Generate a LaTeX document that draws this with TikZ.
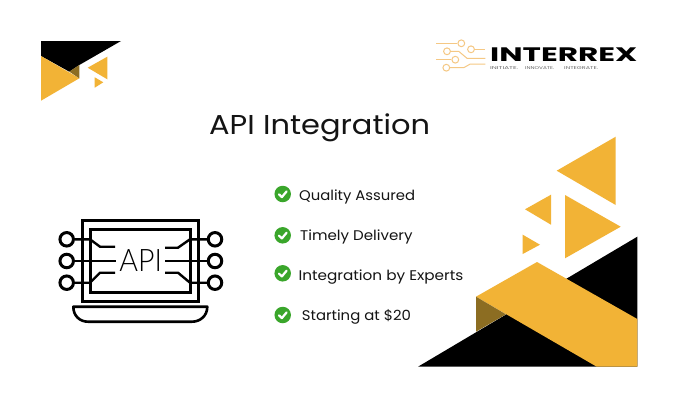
\documentclass[tikz,border=0pt]{standalone}
\usepackage{fontspec}
\setmainfont{Poppins}
\newfontfamily\apifont{Lato Light}
\definecolor{gold}{HTML}{F2B336}
\definecolor{darkgold}{HTML}{8C6D22}
\definecolor{okgreen}{HTML}{3AA62B}
\definecolor{circuit}{HTML}{F5C884}
\tikzset{
  iconline/.style={draw=black,line width=3pt,line join=miter},
  wireline/.style={draw=black,line width=2.4pt,line join=miter},
  iconring/.style={circle,draw=black,line width=3pt,minimum size=13.5pt,inner sep=0pt},
  logoline/.style={draw=circuit,line width=1pt},
  logoring/.style={circle,logoline,minimum size=6.8pt,inner sep=0pt},
  okdisc/.style={circle,fill=okgreen,minimum size=16.5pt,inner sep=0pt},
  tick/.style={draw=white,line width=2.2pt,line cap=round,line join=round},
  itemtext/.style={anchor=base west,inner sep=0pt,font=\fontsize{14}{16}\selectfont,text=black!92},
  tagtext/.style={anchor=base west,inner sep=0pt,text=black!60,font=\fontsize{4}{5}\selectfont}
}
\begin{document}
\begin{tikzpicture}[x=1pt,y=-1pt]
\useasboundingbox[fill=white] (0,0) rectangle (680,408);
% top-left triangles
\fill[black] (41,41) -- (121,41) -- (79.3,65) -- (69.3,71.7) -- (41,56) -- cycle;
\fill[gold] (41,56) -- (79.3,78.3) -- (41,100.7) -- cycle;
\fill[darkgold] (69.3,71.7) -- (79.3,65) -- (79.3,78.3) -- cycle;
\fill[gold] (87.7,67.7) -- (107.3,56.7) -- (107.3,79.3) -- cycle;
\fill[gold] (94.7,77.3) -- (103.3,82.3) -- (94.7,87.7) -- cycle;
% right triangles
\fill[gold] (556.7,170.7) -- (615.7,136.7) -- (615.7,205) -- cycle;
\fill[gold] (565,195) -- (620.7,226.7) -- (565,258.3) -- cycle;
\fill[gold] (525,209.3) -- (551,194.7) -- (551,224.7) -- cycle;
\fill[gold] (522.7,234.7) -- (540,244.7) -- (522.7,254) -- cycle;
\fill[black] (637.3,236.7) -- (637.3,366.7) -- (418,366.7) -- cycle;
\fill[gold] (476,296.7) -- (537,262) -- (637.3,319) -- (637.3,366.7) -- (596.7,366.7) -- cycle;
\fill[darkgold] (476,296.7) -- (506,314.3) -- (476,331.7) -- cycle;
% logo
\node[logoring] (c1) at (461.3,43.3) {};
\node[logoring] (c2) at (447,51.3) {};
\node[logoring] (c3) at (471,49.3) {};
\node[logoring] (c4) at (455.3,59.7) {};
\node[logoring] (c5) at (446.3,67.7) {};
\coordinate (l1) at (436,43.3);
\coordinate (l3) at (484.7,49.3);
\coordinate (l4) at (436,59.7);
\draw[logoline] (l1) -- (c1);
\draw[logoline] (c2) -- (458.7,51.3) -- (467,58.3) -- (485.3,58.3);
\draw[logoline] (c3) -- (l3);
\draw[logoline] (l4) -- (c4);
\draw[logoline] (c5) -- (463.7,67.7) -- (470.3,64) -- (485.3,64);
\node[anchor=base west,inner sep=0pt] (brand) at (490,61.7) {\resizebox{147pt}{13.7pt}{\bfseries INTERREX}};
\node[tagtext] (tag1) at (490,69) {\resizebox{28pt}{2.9pt}{INITIATE.}};
\node[tagtext] (tag2) at (525,69) {\resizebox{29pt}{2.9pt}{INNOVATE.}};
\node[tagtext] (tag3) at (564,69) {\resizebox{34pt}{2.9pt}{INTEGRATE.}};
% title
\node[anchor=base west,inner sep=0pt,font=\fontsize{26.5}{30}\selectfont,text=black!92] (title) at (209,134) {\scalebox{1.15}[1.03]{API Integration}};
% API icon
\draw[iconline] (82.3,220) rectangle (198.3,301);
\draw[iconline] (90,229) rectangle (190,292.3);
\node[iconring] (a1) at (66.7,239.3) {};
\node[iconring] (a2) at (66.7,261) {};
\node[iconring] (a3) at (66.7,282.7) {};
\node[iconring] (b1) at (215,239.3) {};
\node[iconring] (b2) at (215,261) {};
\node[iconring] (b3) at (215,282.7) {};
\draw[wireline] (a1) -- (90,239.3) -- (100,246.7) -- (115,246.7);
\draw[wireline] (a2) -- (115.7,261);
\draw[wireline] (a3) -- (90,282.7) -- (100,272.7) -- (115,272.7);
\draw[wireline] (b1) -- (190,239.3) -- (178,247.7) -- (165,247.7);
\draw[wireline] (b2) -- (165,261);
\draw[wireline] (b3) -- (190,282.7) -- (178,272.7) -- (165,272.7);
\node[anchor=base,inner sep=0pt,font=\apifont\fontsize{31}{34}\selectfont] (api) at (140.7,271) {\scalebox{0.92}[1]{API}};
\draw[iconline,line width=2.6pt,line join=round] (73.3,306.7) -- (207.3,306.7) .. controls (207.3,316) and (200,321.7) .. (192,321.7) -- (88,321.7) .. controls (80,321.7) and (73.3,316) .. (73.3,306.7) -- cycle;
% checklist
\foreach \n/\yy in {1/194,2/235.3,3/273.3,4/315}{
  \node[okdisc] (ok\n) at (282.7,\yy) {};
  \draw[tick] ([shift={(-3.7,0.3)}]ok\n.center) -- ([shift={(-0.8,3.1)}]ok\n.center) -- ([shift={(3.9,-2.6)}]ok\n.center);
}
\node[itemtext] (t1) at (299,200) {\scalebox{1.06}[1]{Quality Assured}};
\node[itemtext] (t2) at (300,240.7) {\scalebox{1.078}[1]{Timely Delivery}};
\node[itemtext] (t3) at (298.3,280) {\scalebox{1.09}[1]{Integration by Experts}};
\node[itemtext] (t4) at (301.7,320.3) {\scalebox{1.063}[1]{Starting at \$20}};
\end{tikzpicture}
\end{document}
